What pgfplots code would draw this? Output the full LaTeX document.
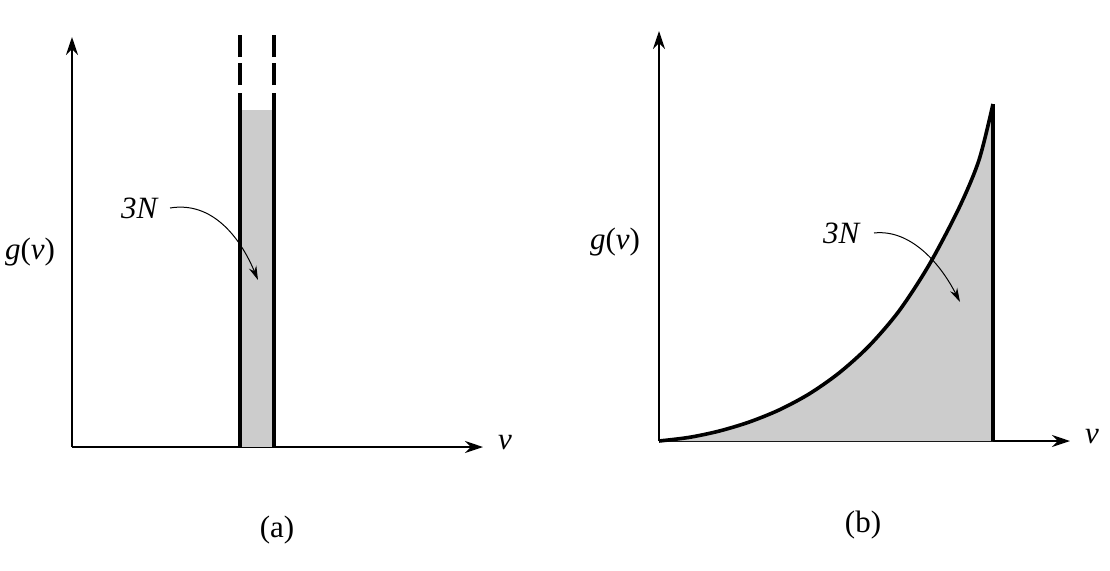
\documentclass[border=0pt]{standalone}
\usepackage{pgfplots}
\pgfplotsset{compat=1.18}
\usetikzlibrary{arrows.meta}
\usepackage{fontspec}
\setmainfont{Liberation Serif}
\newcommand\lbl{\fontsize{15.5}{18}\selectfont}
\begin{document}
\begin{tikzpicture}[font=\lbl]
\useasboundingbox (0,0) rectangle (555pt,285pt);
\pgfplotsset{panel/.style={
  x=0.5pt, y=0.5pt, xmin=0, xmax=411, ymin=0, ymax=410,
  axis lines=left, ticks=none, clip=false, anchor=south west,
  axis line style={line width=0.9pt, -{Stealth[length=9pt,width=6pt]}}}}
% (a) Einstein
\begin{axis}[panel, at={(36pt,61.5pt)}]
\addplot[draw=none, fill=black!20] coordinates {(168,0)(168,337)(202,337)(202,0)} -- cycle;
\addplot[line width=2pt] coordinates {(168,0)(168,354)};
\addplot[line width=2pt] coordinates {(202,0)(202,354)};
\addplot[line width=2pt] coordinates {(168,362)(168,384)};
\addplot[line width=2pt] coordinates {(202,362)(202,384)};
\addplot[line width=2pt] coordinates {(168,390)(168,412)};
\addplot[line width=2pt] coordinates {(202,390)(202,412)};
\node[font=\lbl] at (axis cs:68,239) {\textit{3N}};
\draw[line width=0.5pt, -{Stealth[length=7pt,width=4pt]}] (axis cs:98,239) .. controls (axis cs:140,246) and (axis cs:168,210) .. (axis cs:186,167);
\node[font=\lbl] at (axis cs:-42,195) {\textit{g}(\textit{ν})};
\node[font=\lbl] at (axis cs:433,4) {\textit{ν}};
\node[font=\lbl] at (axis cs:205,-83) {(a)};
\end{axis}
% (b) Debye
\begin{axis}[panel, at={(329.5pt,64.5pt)}]
\addplot[draw=none, fill=black!20, smooth] coordinates {(0,0)(30,3.6)(60,9.9)(90,18.9)(120,31)(150,47)(180,68)(210,95)(240,130)(270,176)(300,233)(320,281)(334,337)} -- (axis cs:334,0) -- cycle;
\addplot[line width=1.8pt, smooth] coordinates {(0,0)(30,3.6)(60,9.9)(90,18.9)(120,31)(150,47)(180,68)(210,95)(240,130)(270,176)(300,233)(320,281)(334,337)};
\addplot[line width=2pt] coordinates {(334,0)(334,337)};
\node[font=\lbl] at (axis cs:183,208) {\textit{3N}};
\draw[line width=0.5pt, -{Stealth[length=7pt,width=4pt]}] (axis cs:215,208) .. controls (axis cs:250,212) and (axis cs:280,180) .. (axis cs:301,139);
\node[font=\lbl] at (axis cs:-44,199) {\textit{g}(\textit{ν})};
\node[font=\lbl] at (axis cs:433,4) {\textit{ν}};
\node[font=\lbl] at (axis cs:204,-84) {(b)};
\end{axis}
\end{tikzpicture}
\end{document}
